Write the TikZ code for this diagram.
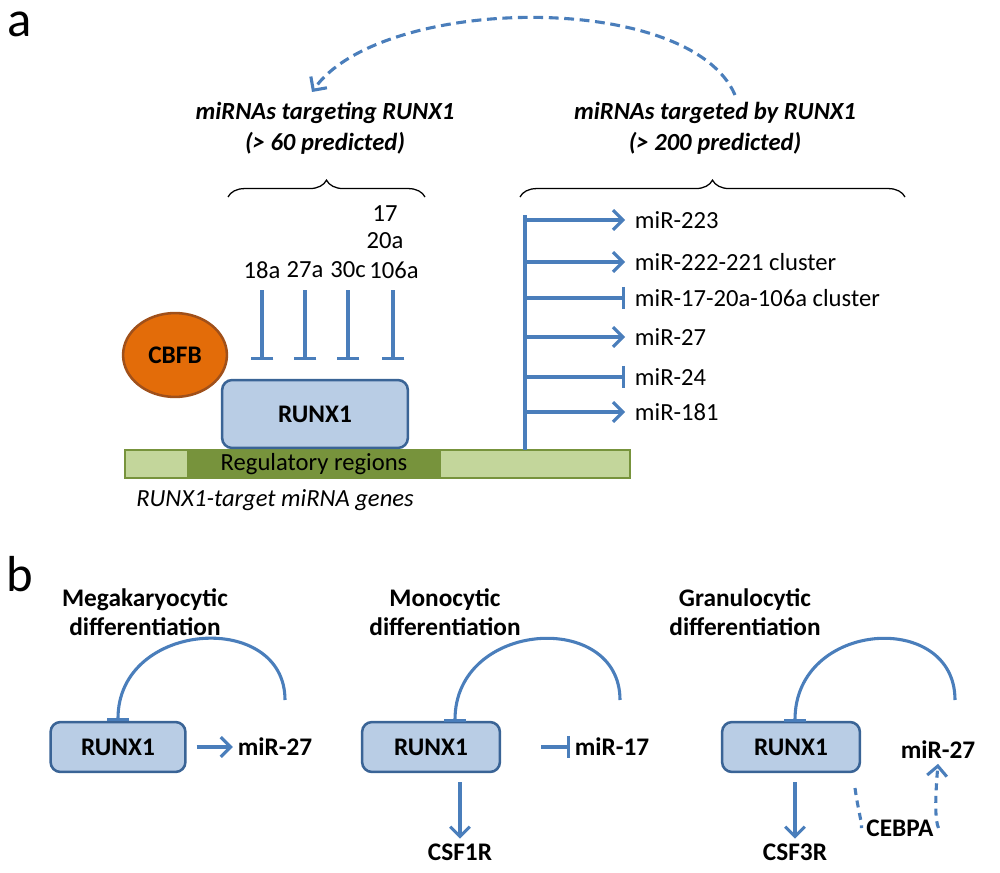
\documentclass[tikz,border=0pt]{standalone}
\usepackage{fontspec}
\setmainfont{Carlito}
\usetikzlibrary{arrows.meta,decorations.pathreplacing,shapes.geometric}
\definecolor{ln}{HTML}{4A7EBB}
\definecolor{bxf}{HTML}{B9CDE5}
\definecolor{bxd}{HTML}{3A6496}
\definecolor{org}{HTML}{E36C09}
\definecolor{orgd}{HTML}{A0501A}
\definecolor{gl}{HTML}{C3D69B}
\definecolor{gd}{HTML}{77933C}
\begin{document}
\begin{tikzpicture}[x=0.025cm,y=-0.025cm,
 con/.style={ln,line width=2.2pt},
 arr/.style={con,-{Straight Barb[length=7pt,width=14pt]}},
 inh/.style={con,-{Bar[width=16pt]}},
 box/.style={draw=bxd,fill=bxf,line width=1.8pt,rounded corners=7pt},
 lbl/.style={font=\fontsize{17.5}{20}\selectfont},
 bl/.style={font=\bfseries\fontsize{18}{21}\selectfont},
 hd/.style={font=\bfseries\itshape\fontsize{17.5}{22}\selectfont,align=center},
 br/.style={draw=black,line width=0.9pt,decorate,decoration={brace,amplitude=12pt}}]
\useasboundingbox (0,0) rectangle (1000,873);
\node[font=\fontsize{36}{38}\selectfont] (la) at (20,24) {a};
\node[font=\fontsize{36}{38}\selectfont] (lb) at (20,574) {b};
% top arc
\coordinate (s) at (735,95);
\coordinate (e) at (312,92);
\draw[con,dashed,dash pattern=on 7pt off 4pt,-{Straight Barb[length=7pt,width=14pt]}] (s) .. controls (690,-10) and (380,-5) .. (e);
\node[hd] (h1) at (325,128) {miRNAs targeting RUNX1\\(> 60 predicted)};
\node[hd] (h2) at (715,128) {miRNAs targeted by RUNX1\\(> 200 predicted)};
\draw[br] (228,197) -- (425,197);
\draw[br] (520,197) -- (905,197);
% numbers
\node[lbl] (n17) at (385,214) {17};
\node[lbl] (n20) at (385,241) {20a};
\node[lbl] (n18) at (262,270) {18a};
\node[lbl] (n27) at (305,270) {27a};
\node[lbl] (n30) at (348,270) {30c};
\node[lbl] (n106) at (394,270) {106a};
\foreach \x in {262,305,348,393}{\draw[inh] (\x,290) -- (\x,360);}
% genes
\draw[draw=gd,fill=gl,line width=0.8pt] (125,450) rectangle (630,478);
\draw[draw=gd,fill=gd,line width=0.8pt] (188,450) rectangle (440,478);
\node[lbl] (reg) at (314,464) {Regulatory regions};
\node[font=\itshape\fontsize{17.5}{20}\selectfont] (tg) at (275,500) {RUNX1-target miRNA genes};
\node[ellipse,draw=orgd,fill=org,line width=1.8pt,minimum width=104pt*0.71,minimum height=84pt*0.71,bl] (cbfb) at (175,355) {CBFB};
\node[box,minimum width=186*0.71pt,minimum height=68*0.71pt,bl] (runx) at (315,414) {RUNX1};
% right targets
\coordinate (v0) at (525,450);
\coordinate (v1) at (525,215);
\draw[con] (v0) -- (v1);
\foreach \y/\t/\s in {220/miR-223/arr,262/miR-222-221 cluster/arr,298/miR-17-20a-106a cluster/inh,337/miR-27/arr,377/miR-24/inh,412/miR-181/arr}{
 \draw[\s] (525,\y) -- (625,\y);
 \node[lbl,anchor=west] at (630,\y) {\t};}
% part b
\node[bl,align=center] (t1) at (145,612) {Megakaryocytic\\differentiation};
\node[bl,align=center] (t2) at (445,612) {Monocytic\\differentiation};
\node[bl,align=center] (t3) at (745,612) {Granulocytic\\differentiation};
% panel 1
\node[box,minimum width=135*0.71pt,minimum height=50*0.71pt,bl] (r1) at (118,747) {RUNX1};
\node[bl] (m1) at (275,747) {miR-27};
\draw[arr] (r1.east)++(10,0) -- (m1.west);
\draw[con,-{Bar[width=16pt]}] (285,700) .. controls (285,610) and (118,620) .. (r1.north);
% panel 2
\node[box,minimum width=138*0.71pt,minimum height=50*0.71pt,bl] (r2) at (431,747) {RUNX1};
\node[bl] (m2) at (612,747) {miR-17};
\draw[inh] (541,747) -- (m2.west);
\draw[con,-{Bar[width=16pt]}] (620,700) .. controls (620,610) and (455,620) .. (455,722);
\node[bl] (c1) at (460,852) {CSF1R};
\draw[arr] (460,782) -- (c1.north);
% panel 3
\node[box,minimum width=138*0.71pt,minimum height=50*0.71pt,bl] (r3) at (791,747) {RUNX1};
\node[bl] (m3) at (938,750) {miR-27};
\draw[con,-{Bar[width=16pt]}] (955,700) .. controls (955,610) and (795,620) .. (795,722);
\node[bl] (c3) at (795,852) {CSF3R};
\draw[arr] (795,782) -- (c3.north);
\node[bl] (ce) at (900,828) {CEBPA};
\draw[con,dashed,dash pattern=on 5pt off 4pt] (855,788) .. controls (858,810) and (862,822) .. (ce.west);
\draw[con,dashed,dash pattern=on 5pt off 4pt,-{Straight Barb[length=7pt,width=14pt]}] (ce.east) .. controls (935,820) and (935,800) .. (m3.south);
\end{tikzpicture}
\end{document}
